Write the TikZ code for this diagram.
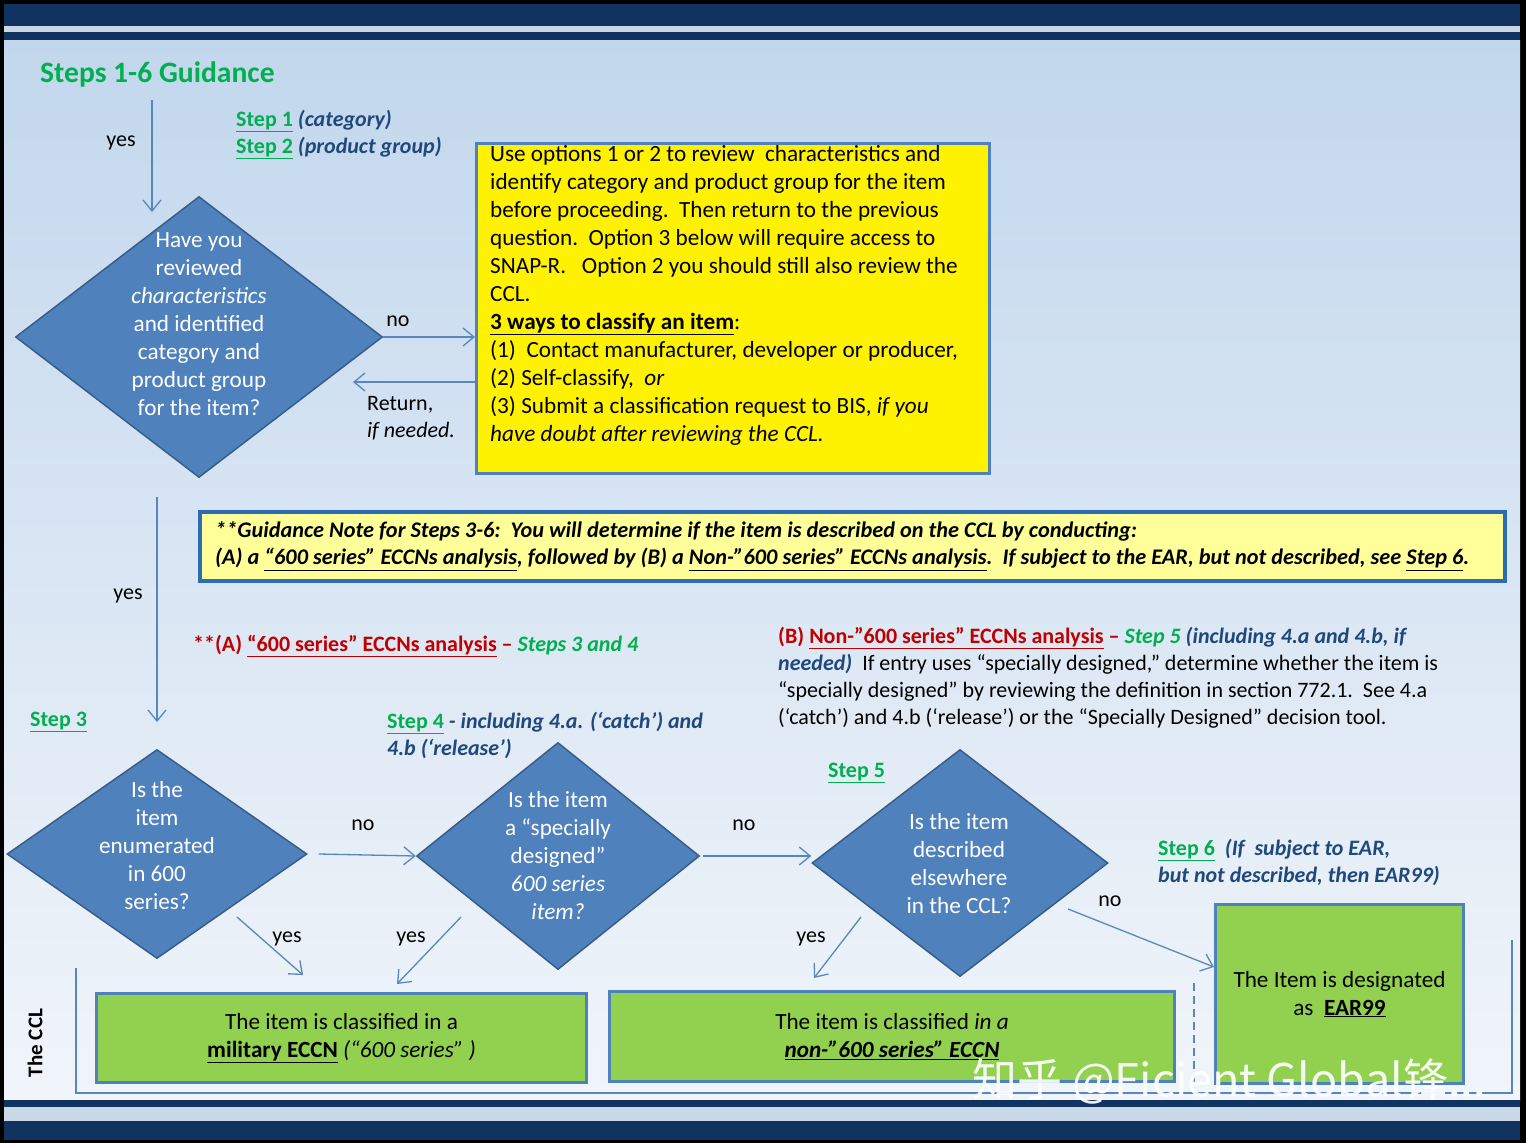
\documentclass[tikz,border=0pt]{standalone}
\usepackage{fontspec}
\setmainfont{Carlito}
\newfontfamily\cjk{Noto Sans CJK SC}
\usetikzlibrary{positioning}
\usetikzlibrary{calc}
\usetikzlibrary{arrows.meta}
\usetikzlibrary{shapes.geometric}

\definecolor{navy}{HTML}{10335F}
\definecolor{bandlight}{HTML}{C9D7E6}
\definecolor{bgtop}{HTML}{C2D7ED}
\definecolor{bgmid}{HTML}{D6E4F2}
\definecolor{bgbot}{HTML}{F1F5FA}
\definecolor{qblue}{HTML}{4F81BD}
\definecolor{qedge}{HTML}{385D8A}
\definecolor{arrowblue}{HTML}{5A86BF}
\definecolor{stepgreen}{HTML}{00B050}
\definecolor{darkblue}{HTML}{1F497D}
\definecolor{darkred}{HTML}{C00000}
\definecolor{boxgreen}{HTML}{92D050}
\definecolor{noteedge}{HTML}{2B6CB5}
\definecolor{notefill}{HTML}{FFFF99}

\newcommand{\bodyfont}{\fontsize{23.2}{28}\selectfont}
\newcommand{\notefont}{\fontsize{22}{27}\selectfont}
\newcommand{\stepref}[1]{\textcolor{stepgreen}{\textbf{\underline{#1}}}}
\newcommand{\bluenote}[1]{\textcolor{darkblue}{\textbf{\textit{#1}}}}
\newcommand{\rednote}[1]{\textcolor{darkred}{\textbf{#1}}}

\begin{document}
\begin{tikzpicture}[x=1pt, y=-1pt,
        question/.style={diamond, draw=qedge, line width=1.5pt, fill=qblue, inner sep=0pt},
        qtext/.style={text=white, align=center, font=\bodyfont, inner sep=0pt},
        flow/.style={draw=arrowblue, line width=1.3pt, -{Straight Barb[length=11pt, width=18pt]}},
        result/.style={draw=qblue, line width=3pt, fill=boxgreen, anchor=north west, align=center, font=\bodyfont},
        lbl/.style={font=\notefont, inner sep=0pt}]
    \useasboundingbox (0,0) rectangle (1526,1143);
    \fill[black] (0,0) rectangle (1526,1143);
    \shade[top color=bgtop, middle color=bgmid, bottom color=bgbot] (4,40) rectangle (1520,1100);
    \fill[navy] (4,4) rectangle (1520,26);
    \fill[bandlight] (4,26) rectangle (1520,32);
    \fill[navy] (4,32) rectangle (1520,40);
    \fill[navy] (4,1100) rectangle (1520,1107);
    \fill[bandlight] (4,1107) rectangle (1520,1121);
    \fill[navy] (4,1121) rectangle (1520,1140);

    \node[anchor=west, inner sep=0pt, text=stepgreen, font=\fontsize{29.6}{35}\selectfont\bfseries] (title) at (40,74) {Steps 1-6 Guidance};
    \node[lbl, anchor=west] (step1) at (236,121) {\stepref{Step 1} \bluenote{(category)}};
    \node[lbl, anchor=west] (step2) at (236,148) {\stepref{Step 2} \bluenote{(product group)}};

    \coordinate (top) at (152,100);
    \coordinate (q1in) at (152,212);
    \draw[flow] (top) -- (q1in);
    \node[lbl] (yes1) at (121,143) {yes};

    \node[question, minimum width=367pt, minimum height=281pt] (q1) at (199,337) {};
    \node[qtext] (q1text) at (199,324) {Have you\\reviewed\\\textit{characteristics}\\and identified\\category and\\product group\\for the item?};

    \node[draw=qblue, line width=2.5pt, fill=yellow, anchor=north west, minimum width=513pt, minimum height=330pt] (options) at (475,142) {};
    \node[anchor=north west, align=left, font=\bodyfont, inner sep=0pt] (optionstext) at ($(options.north west)+(15,3)$) {Use options 1 or 2 to review\ \ characteristics and\\identify category and product group for the item\\before proceeding.\ \ Then return to the previous\\question.\ \ Option 3 below will require access to\\SNAP-R.\ \ \ Option 2 you should still also review the\\CCL.\\\underline{\textbf{3 ways to classify an item}}:\\(1)\ \ Contact manufacturer, developer or producer,\\(2) Self-classify,\ \ \textit{or}\\(3) Submit a classification request to BIS, \textit{if you}\\\textit{have doubt after reviewing the CCL.}};

    \node[lbl] (no1) at (398,321) {no};
    \draw[flow] (q1.east) -- (q1.east -| options.west);
    \coordinate (retend) at (353,382);
    \draw[flow] (options.west |- retend) -- (retend);
    \node[lbl, align=left, anchor=west] (ret) at (367,418) {Return,\\\textit{if needed.}};

    \coordinate (q1out) at (157,497);
    \coordinate (q3in) at (157,722);
    \draw[flow] (q1out) -- (q3in);
    \node[lbl] (yes2) at (128,596) {yes};

    \node[draw=noteedge, line width=3.5pt, fill=notefill, anchor=north west, minimum width=1305pt, minimum height=69pt] (note) at (198,510) {};
    \node[inner sep=0pt, anchor=west, align=left, font=\fontsize{22.3}{27}\selectfont\bfseries\itshape] (notetext) at ($(note.west)+(17,0)$) {**Guidance Note for Steps 3-6:\ \ You will determine if the item is described on the CCL by conducting:\\(A) a \underline{“600 series” ECCNs analysis}, followed by (B) a \underline{Non-”600 series” ECCNs analysis}.\ \ If subject to the EAR, but not described, see \underline{Step 6}.};

    \node[lbl, anchor=west] (analysisA) at (193,646) {\rednote{**(A) \underline{“600 series” ECCNs analysis} –} \textcolor{stepgreen}{\textbf{\textit{Steps 3 and 4}}}};
    \node[lbl, anchor=north west, align=left] (analysisB) at (778,627) {\rednote{(B) \underline{Non-”600 series” ECCNs analysis} –} \textcolor{stepgreen}{\textbf{\textit{Step 5}}} \bluenote{(including 4.a and 4.b, if}\\\bluenote{needed)}\ \ If entry uses “specially designed,” determine whether the item is\\“specially designed” by reviewing the definition in section 772.1.\ \ See 4.a\\(‘catch’) and 4.b (‘release’) or the “Specially Designed” decision tool.};

    \node[lbl, anchor=west] (step3) at (30,722) {\stepref{Step 3}};
    \node[lbl, anchor=north west, align=left] (step4) at (387,712) {\stepref{Step 4} \bluenote{- including 4.a. (‘catch’) and}\\\bluenote{4.b (‘release’)}};
    \node[lbl, anchor=west] (step5) at (828,773) {\stepref{Step 5}};
    \node[lbl, anchor=north west, align=left] (step6) at (1158,839) {\stepref{Step 6}\ \ \bluenote{(If\ \ subject to EAR,}\\\bluenote{but not described, then EAR99)}};

    \node[question, minimum width=300pt, minimum height=209pt] (q3) at (157,854) {};
    \node[qtext] (q3text) at (157,846) {Is the\\item\\enumerated\\in 600\\series?};
    \node[question, minimum width=283pt, minimum height=227pt] (q4) at (558,856) {};
    \node[qtext] (q4text) at (558,856) {Is the item\\a “specially\\designed”\\\textit{600 series}\\\textit{item?}};
    \node[question, minimum width=296pt, minimum height=227pt] (q5) at (960,863) {};
    \node[qtext] (q5text) at (959,864) {Is the item\\described\\elsewhere\\in the CCL?};

    \node[lbl] (no3) at (363,825) {no};
    \draw[flow] ([xshift=11pt]q3.east) -- (q4.west);
    \node[lbl] (no4) at (744,825) {no};
    \draw[flow] ([xshift=3pt]q4.east) -- (q4.east -| q5.west);

    \node[result, minimum width=490pt, minimum height=89pt] (military) at (95,992) {The item is classified in a\\\underline{\textbf{military ECCN}} \textit{(“600 series” )}};
    \node[result, minimum width=565pt, minimum height=90pt] (civil) at (608,990) {The item is classified \textit{in a}\\\underline{\textbf{\textit{non-”600 series” ECCN}}}};
    \node[result, minimum width=248pt, minimum height=179pt] (ear99) at (1214,903) {The Item is designated\\as\ \ \underline{\textbf{EAR99}}};

    \coordinate (c1) at (237,917);
    \coordinate (c2) at (303,975);
    \draw[flow] (c1) -- (c2);
    \node[lbl] (yes3) at (287,939) {yes};
    \coordinate (c3) at (461,917);
    \coordinate (c4) at (397,984);
    \draw[flow] (c3) -- (c4);
    \node[lbl] (yes4) at (411,939) {yes};
    \coordinate (c5) at (861,917);
    \coordinate (c6) at (814,978);
    \draw[flow] (c5) -- (c6);
    \node[lbl] (yes5) at (811,939) {yes};
    \coordinate (c7) at (1068,909);
    \draw[flow] (c7) -- (ear99.west |- 0,967);
    \node[lbl] (no5) at (1110,901) {no};

    \draw[arrowblue, line width=2.5pt] (76,968) -- (76,1093) -- (1512,1093) -- (1512,940);
    \draw[arrowblue, line width=1.2pt, dash pattern=on 8pt off 5pt] (1194,983) -- (1194,1087);
    \node[rotate=90, inner sep=0pt, font=\fontsize{21}{25}\selectfont\bfseries] (ccl) at (35,1043) {The CCL};

    \node[anchor=west, inner sep=0pt, text=white, opacity=0.92, font=\cjk\fontsize{45}{52}\selectfont] (mark) at (972,1081) {知乎 @Ficient Global锋...};
\end{tikzpicture}
\end{document}
